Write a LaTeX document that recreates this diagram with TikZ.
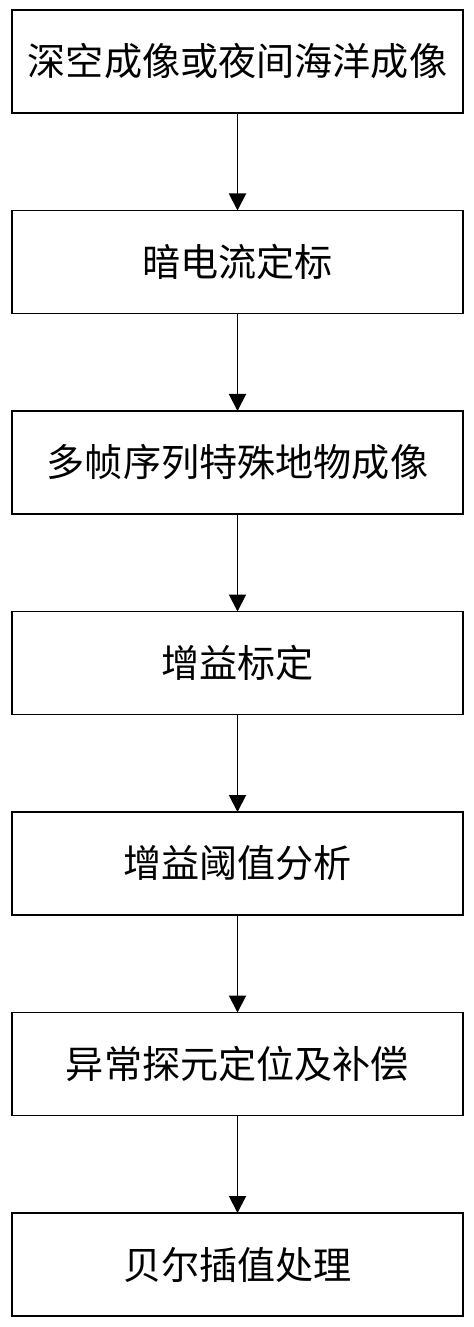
\documentclass[tikz,border=0pt]{standalone}
\usepackage{fontspec}
\newfontfamily\cjk{Noto Sans CJK SC}
\usetikzlibrary{
	arrows.meta,
	positioning
}

\begin{document}
\begin{tikzpicture}[
		stepbox/.style={draw, line width=1.1pt, minimum width=9.02cm, minimum height=2.06cm, inner sep=0pt, outer sep=0pt, font=\cjk\fontsize{21.7}{26}\selectfont},
		flow/.style={-{Triangle[width=0.34cm,length=0.34cm]}, line width=1.1pt}
	]
		\useasboundingbox (0,0) rectangle (9.48,-26.54);
		% 流程
		\node[stepbox] (img) at (4.75,-1.23) {深空成像或夜间海洋成像};
		\node[stepbox, below=1.95cm of img] (dark) {暗电流定标};
		\node[stepbox, below=1.95cm of dark] (multi) {多帧序列特殊地物成像};
		\node[stepbox, below=1.95cm of multi] (gain) {增益标定};
		\node[stepbox, below=1.95cm of gain] (thr) {增益阈值分析};
		\node[stepbox, below=1.95cm of thr] (fix) {异常探元定位及补偿};
		\node[stepbox, below=1.95cm of fix] (interp) {贝尔插值处理};
		% 箭头
		\foreach \a/\b in {img/dark, dark/multi, multi/gain, gain/thr, thr/fix, fix/interp}
			\draw[flow] (\a) -- (\b);
	\end{tikzpicture}
\end{document}
